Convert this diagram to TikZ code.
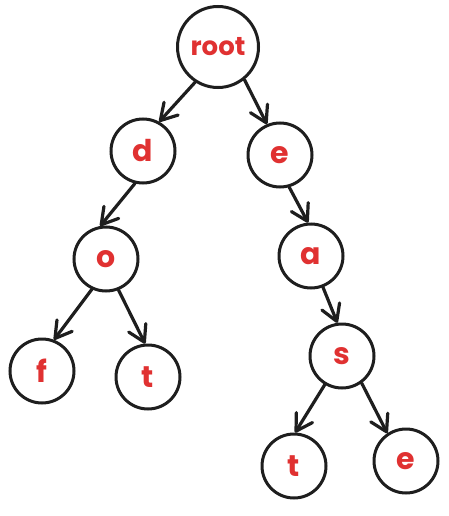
\documentclass[tikz,border=0pt]{standalone}
\usepackage{fontspec}
\setmainfont{Poppins}
\usetikzlibrary{arrows.meta}
\definecolor{ink}{HTML}{1E1E1E}
\definecolor{lbl}{HTML}{E03131}
\tikzset{
  tnode/.style={circle, draw=ink, line width=3pt, minimum size=64pt, inner sep=0pt,
    text=lbl, font=\fontsize{30}{30}\selectfont\bfseries},
  rootnode/.style={tnode, minimum size=81pt, font=\fontsize{26}{26}\selectfont\bfseries},
  edge/.style={draw=ink, line width=3.2pt, line cap=round, line join=round,
    -{Straight Barb[length=16pt,width=19pt,line width=3.2pt,round]}}
}
\begin{document}
\begin{tikzpicture}[x=1pt,y=-1pt]
\useasboundingbox (0,0) rectangle (449,516);
\node[rootnode] (root) at (218,47) {root};
\node[tnode] (d) at (143,151) {d};
\node[tnode] (e) at (280,155) {e};
\node[tnode] (o) at (106,259) {o};
\node[tnode] (a) at (311,256) {a};
\node[tnode] (f) at (42,371) {f};
\node[tnode] (t1) at (148,377) {t};
\node[tnode] (s) at (342,356) {s};
\node[tnode] (t2) at (294,466) {t};
\node[tnode] (e2) at (406,461) {e};
\draw[edge] (root.237) -- (d.61);
\draw[edge] (root.309) -- (e.113);
\draw[edge] (d.256) -- (o.100);
\draw[edge] (e.286) -- (a.95);
\draw[edge] (o.245) -- (f.69);
\draw[edge] (o.292) -- (t1.95);
\draw[edge] (a.291) -- (s.98);
\draw[edge] (s.239) -- (t2.88);
\draw[edge] (s.306) -- (e2.124);
\end{tikzpicture}
\end{document}
